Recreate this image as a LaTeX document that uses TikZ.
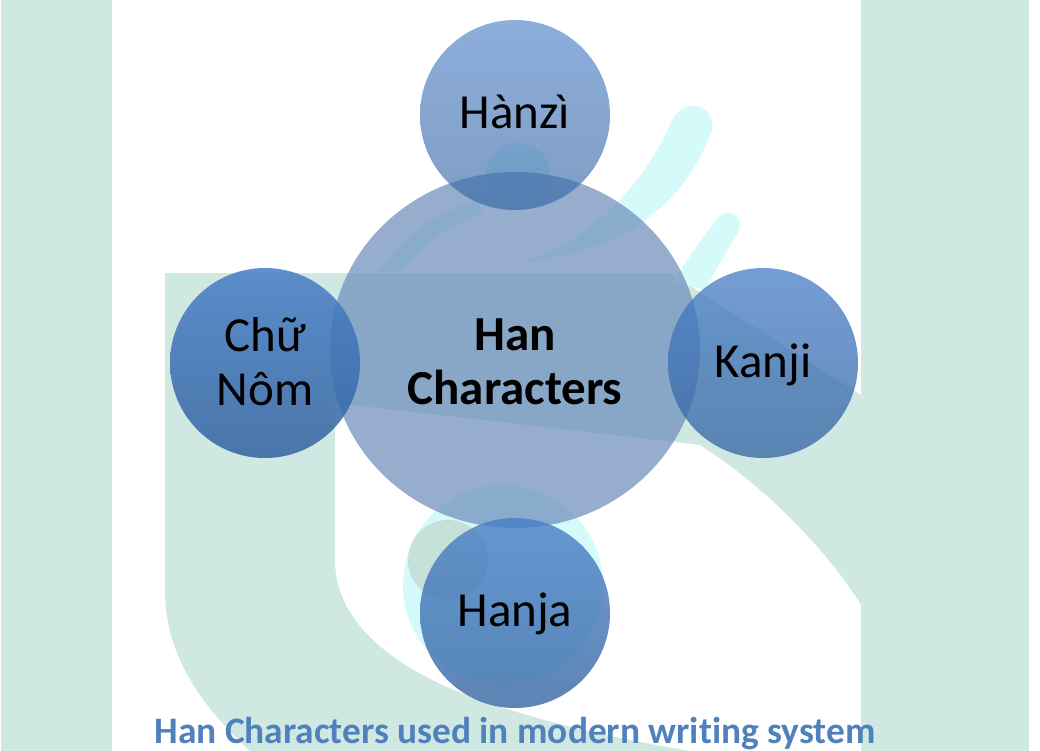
\documentclass[tikz,border=0pt]{standalone}
\usepackage{fontspec}
\setmainfont{Carlito}[RawFeature={-liga}]
\usetikzlibrary{shapes.geometric}
\definecolor{tealbg}{HTML}{D0E8E2}
\definecolor{tealdk}{HTML}{C6E0DA}
\definecolor{cyanbg}{HTML}{D4FAFA}
\definecolor{satTop}{HTML}{467DC7}
\definecolor{satBot}{HTML}{3262A0}
\definecolor{hubc}{HTML}{6A8BBA}
\definecolor{capc}{HTML}{4F81BD}
\begin{document}
\begin{tikzpicture}[x=1pt,y=-1pt,
  sat/.style={circle, minimum size=190pt, inner sep=0pt, draw=none,
    top color=satTop, bottom color=satBot, fill opacity=#1, text opacity=1,
    font=\fontsize{49}{54}\selectfont, align=center, text=black},
  hub/.style={ellipse, minimum width=370pt, minimum height=356pt, inner sep=0pt,
    fill=hubc, fill opacity=0.7, text opacity=1, draw=none,
    font=\bfseries\fontsize{49}{54}\selectfont, align=center, text=black},
  captext/.style={font=\bfseries\fontsize{37.4}{40}\selectfont, text=capc, inner sep=0pt}]
\useasboundingbox (0,0) rectangle (1040,751);
\fill[white] (0,0) rectangle (1040,751);
% watermark background
\fill[tealbg] (1,0) rectangle (112,751);
\fill[tealbg] (861,0) rectangle (1029,751);
\fill[tealbg] (165,273) -- (670,273) -- (861,395) -- (861,751) -- (250,751)
  .. controls (195,700) and (165,650) .. (165,590) -- cycle;
\fill[white] (335,403) -- (700,445) .. controls (770,490) and (830,555) .. (861,605)
  -- (861,751) -- (690,751) .. controls (610,737) and (550,724) .. (480,700)
  .. controls (390,668) and (335,620) .. (335,560) -- cycle;
\fill[cyanbg] (503,585) circle[radius=100];
\fill[tealdk] (448,560) circle[radius=40];
\fill[cyanbg] (518,175) circle[radius=32];
\fill[cyanbg] (523,262) .. controls (590,240) and (640,190) .. (670,125)
  .. controls (678,98) and (716,100) .. (712,130)
  .. controls (690,190) and (640,250) .. (523,262) -- cycle;
\fill[cyanbg] (673,282) .. controls (690,255) and (705,235) .. (715,222)
  .. controls (724,206) and (746,212) .. (738,232)
  .. controls (728,250) and (715,270) .. (705,290) -- cycle;
\fill[cyanbg] (478,200) .. controls (435,212) and (402,238) .. (378,272)
  -- (400,272) .. controls (422,246) and (448,226) .. (482,214) -- cycle;
% diagram
\node[hub, text height=108pt, text depth=0pt] (hc) at (515,350) {Han\\Characters};
\node[sat=0.62, text height=28pt, text depth=0pt] (hz) at (515,115) {Hànzì};
\node[sat=0.85, text height=84pt, text depth=0pt] (cn) at (265,363) {Chữ\\Nôm};
\node[sat=0.75, text height=28pt, text depth=0pt] (kj) at (763,363) {Kanji};
\node[sat=0.78, text height=26pt, text depth=0pt] (hj) at (515,613) {Hanja};
\node[captext, anchor=base] (cap) at (515,743) {Han Characters used in modern writing system};
\end{tikzpicture}
\end{document}
